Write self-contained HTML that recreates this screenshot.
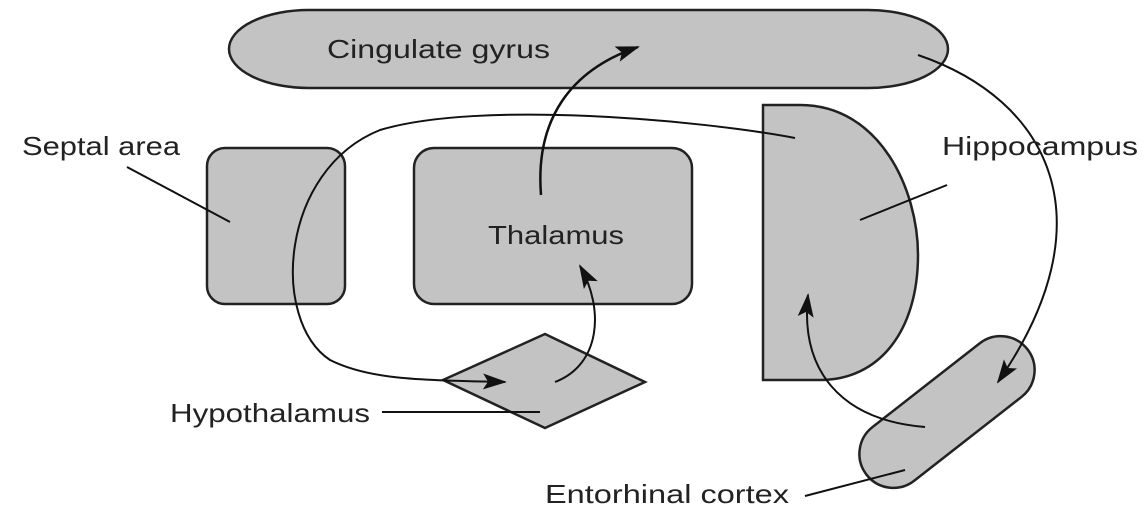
<!DOCTYPE html>
<html><head><style>
html,body{margin:0;padding:0;background:#fff;}
svg{display:block;}
text{font-family:"Liberation Sans",sans-serif;font-size:26px;fill:#222;}
</style></head><body>
<svg width="1147" height="514" viewBox="0 0 1147 514" xmlns="http://www.w3.org/2000/svg">
<defs>
<marker id="ah" markerWidth="24" markerHeight="16" refX="22" refY="8" orient="auto" markerUnits="userSpaceOnUse" viewBox="0 0 24 16">
<path d="M0,0 L24,8 L0,16 L5,8 Z" fill="#111"/>
</marker>
</defs>
<g fill="#c3c3c3" stroke="#222" stroke-width="2.5">
<rect x="229" y="10" width="719" height="78" rx="80" ry="39"/>
<rect x="207" y="148" width="138" height="156" rx="18"/>
<rect x="414" y="148" width="278" height="156" rx="20"/>
<path d="M763,105 L800,105 C880,105 918,190 918,255 C918,330 880,380 820,380 L763,380 Z"/>
<polygon points="443,380 545,334 645,382 545,428"/>
<rect x="-102" y="-34" width="204" height="68" rx="34" transform="translate(947,412) rotate(-38)"/>
</g>
<g fill="none" stroke="#111" stroke-width="2">
<path d="M541,195 C535,120 570,70 638,47" marker-end="url(#ah)" stroke-width="2.5"/>
<path d="M795,138 C700,120 480,100 380,130 C280,170 270,320 330,360 C370,380 420,380 505,382" marker-end="url(#ah)"/>
<path d="M555,382 C600,365 605,310 580,266" marker-end="url(#ah)"/>
<path d="M918,55 C1050,100 1110,220 998,382" marker-end="url(#ah)"/>
<path d="M925,427 C840,420 800,370 808,295" marker-end="url(#ah)"/>
<line x1="127" y1="167" x2="230" y2="222"/>
<line x1="947" y1="185" x2="860" y2="220"/>
<line x1="382" y1="412" x2="540" y2="412"/>
<line x1="805" y1="496" x2="905" y2="470"/>
</g>
<text x="22" y="155" textLength="158" lengthAdjust="spacingAndGlyphs">Septal area</text>
<text x="327" y="58" textLength="223" lengthAdjust="spacingAndGlyphs">Cingulate gyrus</text>
<text x="488" y="244" textLength="136" lengthAdjust="spacingAndGlyphs">Thalamus</text>
<text x="942" y="155" textLength="196" lengthAdjust="spacingAndGlyphs">Hippocampus</text>
<text x="170" y="422" textLength="200" lengthAdjust="spacingAndGlyphs">Hypothalamus</text>
<text x="545" y="503" textLength="244" lengthAdjust="spacingAndGlyphs">Entorhinal cortex</text>
</svg>
</body></html>
